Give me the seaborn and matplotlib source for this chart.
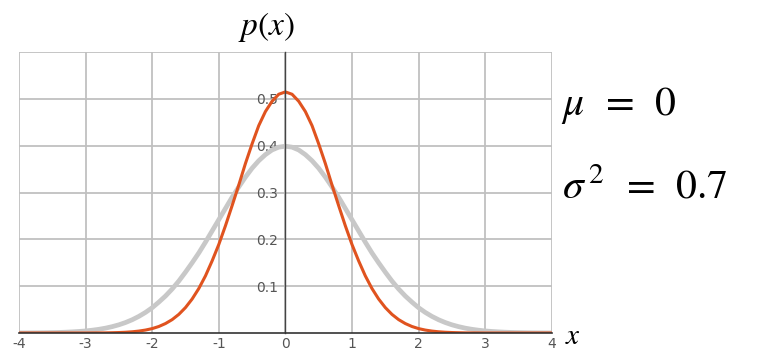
import numpy as np
import pandas as pd
import matplotlib
matplotlib.use("Agg")
import matplotlib.pyplot as plt
import seaborn as sns

# values, from x = 0 outwards in steps of 0.1
# (both curves are symmetric about x = 0)
gray_half = [0.399, 0.397, 0.391, 0.381, 0.368, 0.352, 0.333, 0.312, 0.290, 0.266,
             0.242, 0.218, 0.194, 0.171, 0.150, 0.130, 0.111, 0.094, 0.079, 0.066,
             0.054, 0.044, 0.0355, 0.0283, 0.0224, 0.0175, 0.0136, 0.0104, 0.0079, 0.006,
             0.0044, 0.0033, 0.0024, 0.0017, 0.0012, 0.0009, 0.0006, 0.0004, 0.0003, 0.0002,
             0.0001]
orange_half = [0.515, 0.510, 0.495, 0.473, 0.443, 0.404, 0.362, 0.316, 0.272, 0.229,
               0.189, 0.154, 0.122, 0.095, 0.0726, 0.0543, 0.0398, 0.0286, 0.0202, 0.0139,
               0.0094, 0.0063, 0.0041, 0.0026, 0.0016, 0.001, 0.0006, 0.0003, 0.0002, 0.0001,
               0.0, 0.0, 0.0, 0.0, 0.0, 0.0, 0.0, 0.0, 0.0, 0.0,
               0.0]

x_vals = [round(-4 + 0.1 * i, 1) for i in range(81)]
gray_y = gray_half[::-1] + gray_half[1:]
orange_y = orange_half[::-1] + orange_half[1:]

x_ticks = [-4, -3, -2, -1, 0, 1, 2, 3, 4]
y_ticks = [0.1, 0.2, 0.3, 0.4, 0.5]
grid_y = [0.1, 0.2, 0.3, 0.4, 0.5, 0.6]

sns.set_style("white")
plt.rcParams['font.family'] = ['DejaVu Sans']
plt.rcParams['mathtext.fontset'] = 'stix'

df = pd.DataFrame({"x": x_vals, "std": gray_y, "narrow": orange_y})

fig = plt.figure(figsize=(7.58, 3.56), dpi=100)
ax = fig.add_axes([0.025, 0.0646, 0.703, 0.789])

sns.lineplot(data=df, x="x", y="std", ax=ax, color="#c8c8c8", linewidth=3.4)
sns.lineplot(data=df, x="x", y="narrow", ax=ax, color="#e0531f", linewidth=2.2)

ax.set_xlim(-4, 4)
ax.set_ylim(0, 0.6)
ax.set_xticks(x_ticks)
ax.set_xticklabels([str(t) for t in x_ticks])
ax.set_yticks(y_ticks)
ax.set_yticklabels([f"{t:.1f}" for t in y_ticks])

# grid lines every 1 in x and 0.1 in y, including the frame
for gx in x_ticks:
    ax.axvline(gx, color="#c0c0c0", linewidth=1.3, zorder=0)
for gy in grid_y:
    ax.axhline(gy, color="#c0c0c0", linewidth=1.3, zorder=0)

ax.spines['left'].set_position(('data', 0))
ax.spines['left'].set_color("#444444")
ax.spines['left'].set_linewidth(1.0)
ax.spines['bottom'].set_color("#333333")
ax.spines['bottom'].set_linewidth(1.2)
ax.spines['top'].set_visible(False)
ax.spines['right'].set_visible(False)

ax.tick_params(axis='y', direction='in', length=4, width=1, color="#444444",
               labelsize=10, labelcolor="#555555", pad=5)
ax.tick_params(axis='x', direction='in', length=3, width=1, color="#444444",
               labelsize=10, labelcolor="#555555", pad=3)
ax.set_xlabel("")
ax.set_ylabel("")

fig.text(0.352, 0.925, r"$p(x)$", fontsize=24, ha="center", va="center", color="black")
fig.text(0.745, 0.055, r"$x$", fontsize=21, ha="left", va="center", color="black")
fig.text(0.740, 0.705, r"$\mu\ \,=\ \,0$", fontsize=30, ha="left", va="center", color="black")
fig.text(0.742, 0.475, r"$\sigma^{\,2}\ \,=\ \,0.7$", fontsize=30, ha="left", va="center",
         color="black")

fig.savefig("out.png", dpi=100, facecolor="white")
